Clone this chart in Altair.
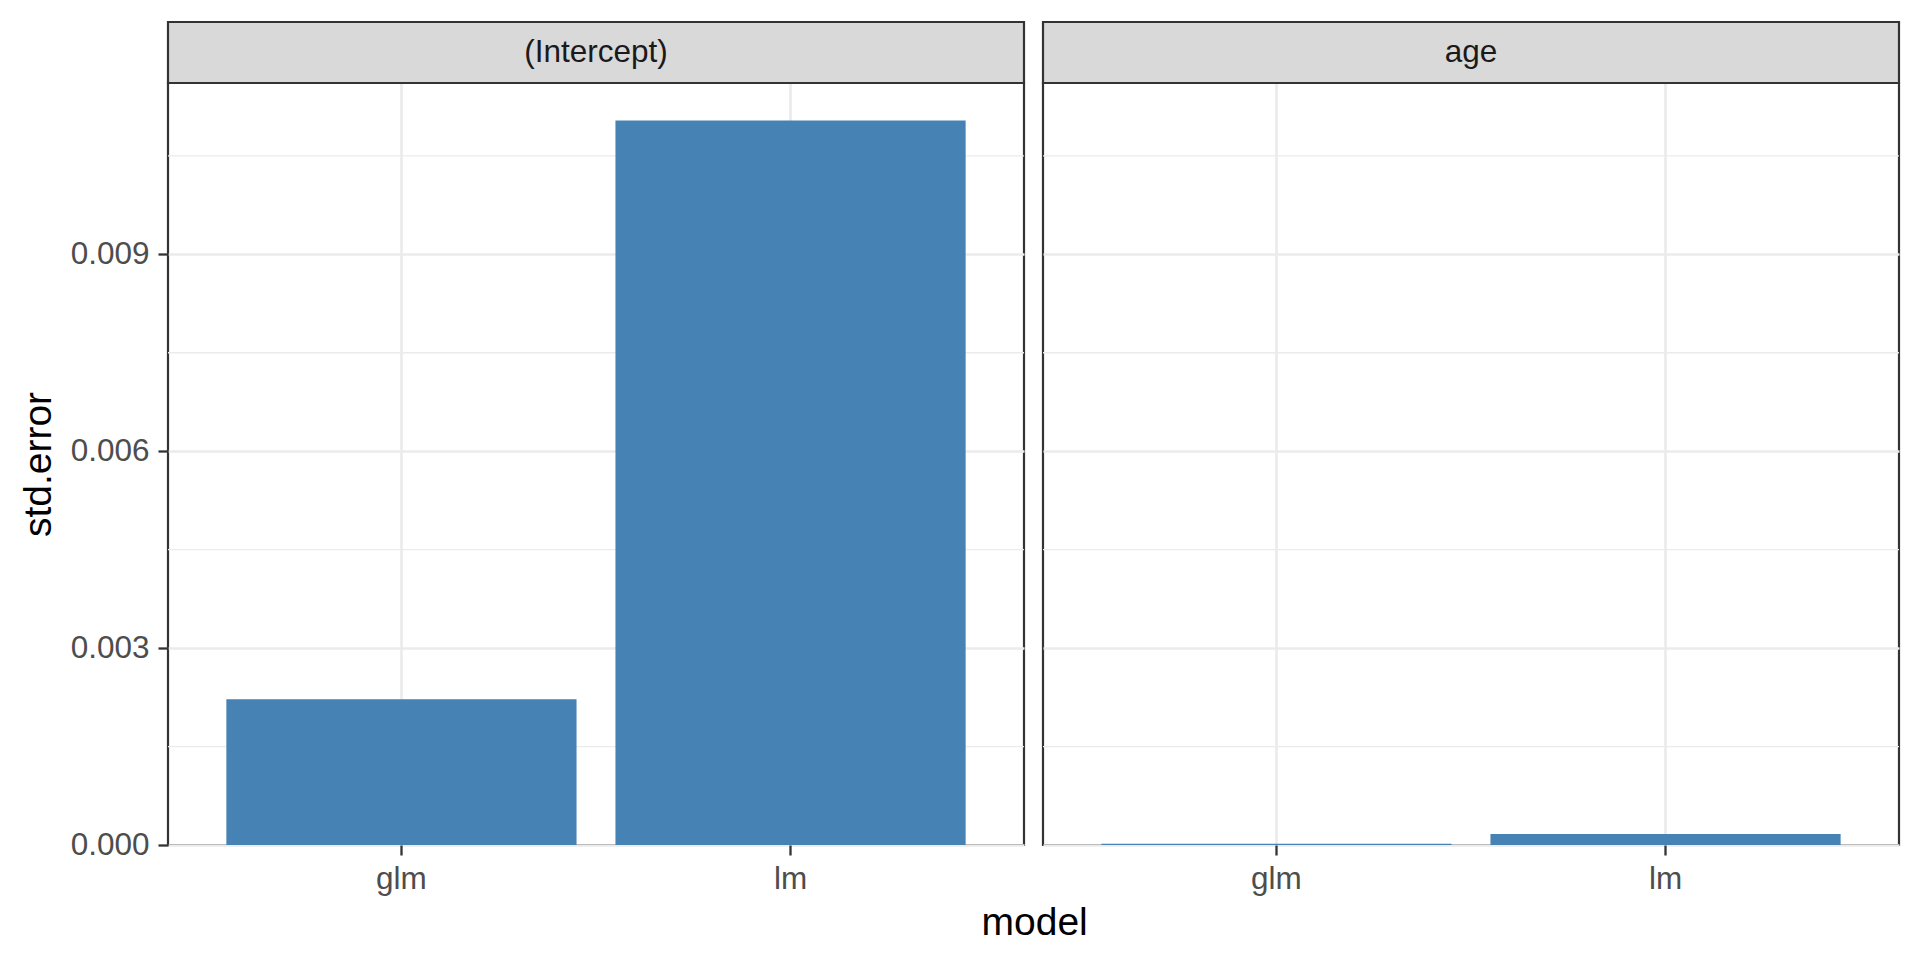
import altair as alt
import pandas as pd

# ---- data ----
terms = ["(Intercept)", "age"]
models = ["glm", "lm"]
std_error_intercept = [0.00222, 0.01104]
std_error_age = [0.00002, 0.000168]
major_breaks = [0.0, 0.003, 0.006, 0.009]
minor_breaks = [0.0015, 0.0045, 0.0075, 0.0105]
y_domain = [0.0, 0.01161]

rows = []
for m, v in zip(models, std_error_intercept):
    rows.append({"term": terms[0], "model": m, "std_error": v})
for m, v in zip(models, std_error_age):
    rows.append({"term": terms[1], "model": m, "std_error": v})
df = pd.DataFrame(rows)

FONT = "Liberation Sans"
W = 856
H = 762
STRIP_H = 61
BAR_COLOR = "#4682B4"
GAP = 13

yscale = alt.Scale(domain=y_domain, nice=False, zero=True)
xscale = alt.Scale(domain=models, paddingInner=0.1, paddingOuter=0.15)


def panel(term, first):
    d = df[df["term"] == term]
    if first:
        yaxis = alt.Axis(values=major_breaks, format=".3f", title="std.error",
                         labelPadding=9, titlePadding=12)
    else:
        yaxis = alt.Axis(values=major_breaks, labels=False, ticks=False,
                         title=None)
    minor = alt.Chart(pd.DataFrame({"std_error": minor_breaks})).mark_rule(
        color="#EBEBEB", strokeWidth=1.35
    ).encode(y=alt.Y("std_error:Q", scale=yscale, axis=yaxis))
    bars = alt.Chart(d).mark_bar(color=BAR_COLOR).encode(
        x=alt.X("model:N", scale=xscale, sort=models,
                axis=alt.Axis(title=None, labelAngle=0, bandPosition=0.5,
                              labelPadding=8, grid=True)),
        y=alt.Y("std_error:Q", scale=yscale, axis=yaxis),
    )
    sd = pd.DataFrame({"term": [term]})
    strip = alt.Chart(sd).mark_rect(
        fill="#D9D9D9", stroke="#333333", strokeWidth=2.2
    ).encode(x=alt.value(0), x2=alt.value("width"),
             y=alt.value(-STRIP_H), y2=alt.value(0))
    label = alt.Chart(sd).mark_text(
        font=FONT, fontSize=31.5, color="#1A1A1A", baseline="middle",
        align="center"
    ).encode(x=alt.value(W / 2), y=alt.value(-STRIP_H / 2), text="term:N")
    return alt.layer(minor, bars, strip, label).properties(width=W, height=H)


chart = alt.hconcat(panel(terms[0], True), panel(terms[1], False), spacing=GAP).properties(
    title=alt.TitleParams("model", orient="bottom", anchor="middle", fontSize=39,
                          font=FONT, fontWeight="normal", color="#000000",
                          offset=8, dx=75),
    padding={"top": 11, "left": 10, "right": 5, "bottom": 5},
).configure_view(
    stroke="#333333", strokeWidth=2.2
).configure_axis(
    gridColor="#EBEBEB", gridWidth=2.7, tickColor="#333333", tickWidth=2.3,
    tickSize=10, labelColor="#4D4D4D", labelFont=FONT, labelFontSize=31.5,
    titleFont=FONT, titleFontSize=39, titleColor="#000000",
    titleFontWeight="normal", domain=False,
).configure_concat(spacing=GAP)

chart.save("out.html", embed_options={"renderer": "svg", "actions": False})
